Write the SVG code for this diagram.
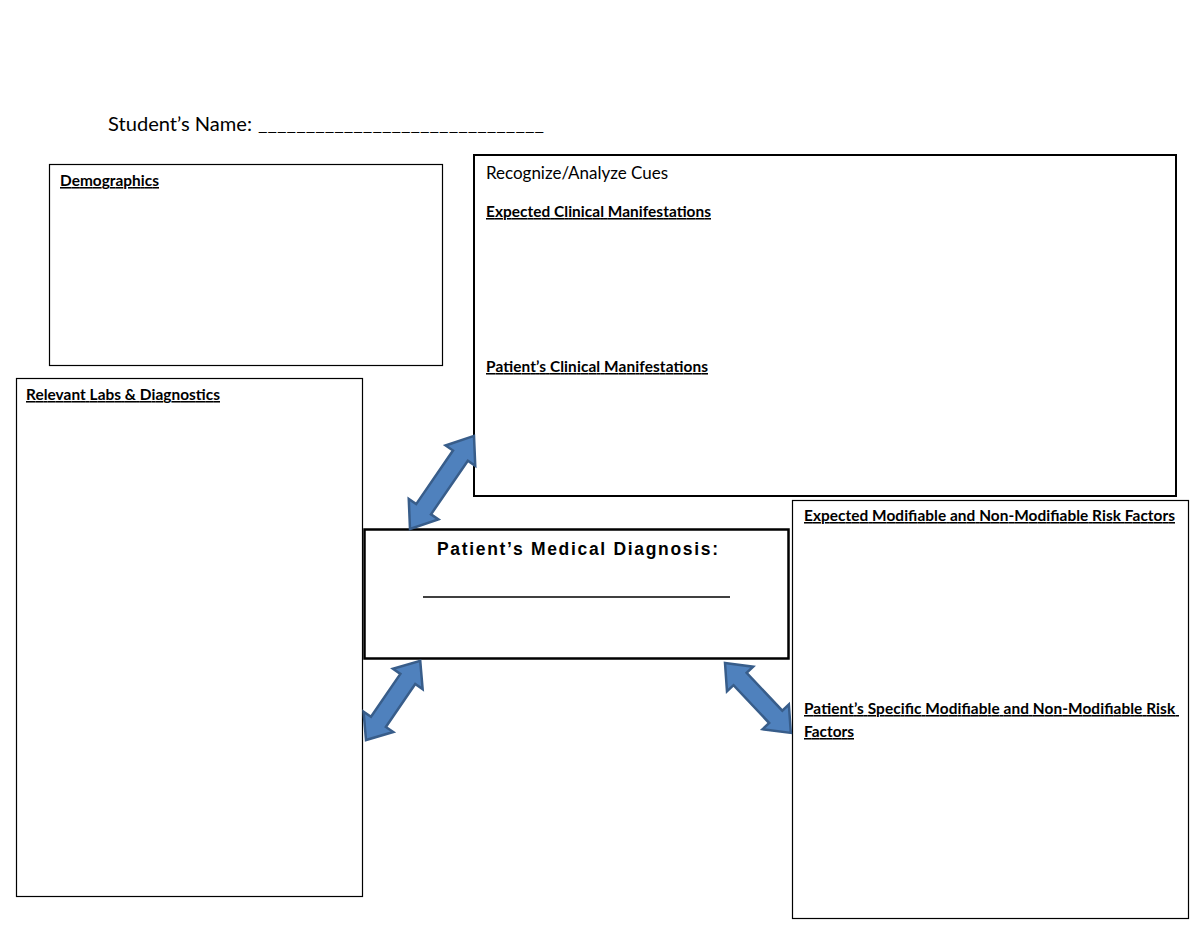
<svg xmlns="http://www.w3.org/2000/svg" width="1200" height="927" viewBox="0 0 1200 927">
<style>
.box{fill:#fff;stroke:#000;stroke-width:1.2}
.thick{stroke-width:2}
.heavy{stroke-width:2.5}
.h{font-family:Lato,"Liberation Sans",sans-serif;font-size:15.4px;font-weight:bold;text-decoration:underline;fill:#000}
.t{font-family:Lato,"Liberation Sans",sans-serif;fill:#000}
.arrow{fill:#4f81bd;stroke:#385d8a;stroke-width:2.5;stroke-linejoin:miter}
</style>
<rect width="1200" height="927" fill="#fff"/>
<g id="title">
<text class="t" x="108" y="131" font-size="19.5" textLength="144" lengthAdjust="spacingAndGlyphs">Student’s Name:</text>
<text class="t" x="258" y="131" font-size="18" textLength="286" lengthAdjust="spacingAndGlyphs">______________________________</text>
</g>
<g id="demographics">
<rect class="box" x="49.5" y="164.5" width="393" height="201"/>
<text class="h" x="60" y="186" textLength="99">Demographics</text>
</g>
<g id="cues">
<rect class="box thick" x="474" y="155" width="702" height="341"/>
<text class="t" x="486" y="179" font-size="17" textLength="182">Recognize/Analyze Cues</text>
<text class="h" x="486" y="217" textLength="225">Expected Clinical Manifestations</text>
<text class="h" x="486" y="372" textLength="222">Patient’s Clinical Manifestations</text>
</g>
<g id="labs">
<rect class="box" x="16.5" y="378.5" width="346" height="518"/>
<text class="h" x="26" y="400" textLength="194">Relevant Labs &amp; Diagnostics</text>
</g>
<g id="risk">
<rect class="box" x="792.5" y="500.5" width="396" height="418"/>
<text class="h" x="804" y="521" textLength="371">Expected Modifiable and Non-Modifiable Risk Factors</text>
<text class="h" x="804" y="714" xml:space="preserve" textLength="375">Patient’s Specific Modifiable and Non-Modifiable Risk </text>
<text class="h" x="804" y="737" textLength="50">Factors</text>
</g>
<g id="diagnosis">
<rect class="box heavy" x="364.5" y="529.5" width="424" height="129"/>
<text x="437" y="555" font-family="Liberation Sans,Arial,sans-serif" font-size="17.5" font-weight="bold" textLength="281">Patient’s Medical Diagnosis:</text>
<line x1="423" y1="597" x2="730" y2="597" stroke="#000" stroke-width="1.5"/>
</g>
<g id="connectors">
<polygon class="arrow" transform="translate(410,529) rotate(-55.5)" points="0,0 24,-18 24,-9 89,-9 89,-18 113,0 89,18 89,9 24,9 24,18"/>
<polygon class="arrow" transform="translate(366,740) rotate(-55.6)" points="0,0 22,-18 22,-9 74,-9 74,-18 96,0 74,18 74,9 22,9 22,18"/>
<polygon class="arrow" transform="translate(725,663) rotate(46.7)" points="0,0 22,-18 22,-9 74,-9 74,-18 96,0 74,18 74,9 22,9 22,18"/>
</g>
</svg>
